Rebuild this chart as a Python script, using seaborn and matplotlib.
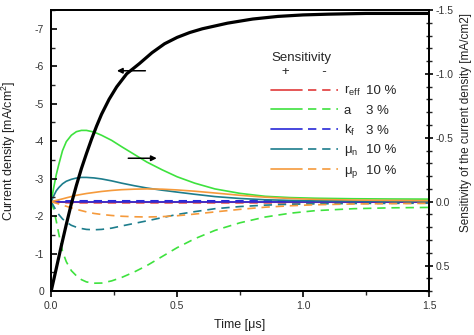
import matplotlib
matplotlib.use("Agg")
import matplotlib.pyplot as plt
from matplotlib.legend_handler import HandlerTuple
from matplotlib.ticker import MultipleLocator
import seaborn as sns

sns.set_style("ticks")
plt.rcParams["font.family"] = ["Liberation Sans", "DejaVu Sans"]
plt.rcParams["mathtext.fontset"] = "custom"
plt.rcParams["mathtext.rm"] = "Liberation Sans"
plt.rcParams["mathtext.it"] = "Liberation Sans:italic"

# Current density transient (left axis)
time_j = [0, 0.02, 0.04, 0.06, 0.08, 0.1, 0.12, 0.14, 0.16, 0.18, 0.2, 0.23,
          0.26, 0.3, 0.35, 0.4, 0.45, 0.5, 0.55, 0.6, 0.7, 0.8, 0.9, 1.0,
          1.1, 1.25, 1.5]
current = [0, -0.6, -1.2, -1.78, -2.33, -2.82, -3.27, -3.67, -4.05, -4.4,
           -4.72, -5.12, -5.45, -5.8, -6.07, -6.36, -6.6, -6.77, -6.9, -7.0,
           -7.15, -7.26, -7.33, -7.37, -7.39, -7.41, -7.41]

# Sensitivity curves (right axis), + and - parameter variation
time_s = [0, 0.01, 0.02, 0.03, 0.045, 0.06, 0.08, 0.1, 0.12, 0.14, 0.17, 0.2,
          0.24, 0.28, 0.33, 0.38, 0.44, 0.5, 0.57, 0.65, 0.75, 0.85, 0.95,
          1.05, 1.2, 1.35, 1.5]
a_plus = [0, -0.11, -0.21, -0.29, -0.40, -0.47, -0.52, -0.548, -0.558,
          -0.558, -0.545, -0.52, -0.48, -0.43, -0.37, -0.31, -0.25, -0.195,
          -0.145, -0.10, -0.065, -0.042, -0.032, -0.027, -0.023, -0.021, -0.02]
a_minus = [0, 0.06, 0.15, 0.25, 0.39, 0.47, 0.54, 0.58, 0.61, 0.628, 0.638,
           0.637, 0.62, 0.593, 0.55, 0.50, 0.43, 0.36, 0.29, 0.225, 0.165,
           0.12, 0.09, 0.07, 0.055, 0.048, 0.045]
mun_plus = [0, -0.045, -0.085, -0.11, -0.14, -0.16, -0.175, -0.185, -0.19,
            -0.19, -0.186, -0.178, -0.163, -0.145, -0.125, -0.107, -0.09,
            -0.075, -0.058, -0.04, -0.025, -0.015, -0.01, -0.008, -0.006,
            -0.005, -0.005]
mun_minus = [0, 0.035, 0.07, 0.10, 0.135, 0.16, 0.185, 0.20, 0.21, 0.217,
             0.22, 0.217, 0.207, 0.19, 0.17, 0.15, 0.125, 0.10, 0.078, 0.055,
             0.038, 0.027, 0.02, 0.017, 0.014, 0.013, 0.012]
mup_plus = [0, -0.005, -0.01, -0.015, -0.022, -0.03, -0.04, -0.05, -0.057,
            -0.064, -0.072, -0.08, -0.088, -0.094, -0.098, -0.10, -0.098,
            -0.092, -0.082, -0.068, -0.05, -0.035, -0.025, -0.018, -0.013,
            -0.01, -0.008]
mup_minus = [0, 0.006, 0.012, 0.018, 0.027, 0.036, 0.048, 0.06, 0.07, 0.08,
             0.092, 0.10, 0.108, 0.114, 0.118, 0.12, 0.117, 0.11, 0.097, 0.08,
             0.06, 0.043, 0.032, 0.024, 0.018, 0.015, 0.013]

# r_eff and k_f barely move away from zero
time_flat = [0, 0.02, 0.05, 0.1, 0.3, 0.6, 1.0, 1.5]
reff_plus = [0, 0.003, 0.004, 0.004, 0.004, 0.004, 0.004, 0.004]
reff_minus = [0, 0.006, 0.008, 0.009, 0.009, 0.009, 0.009, 0.009]
kf_plus = [0, 0.001, 0.002, 0.002, 0.002, 0.002, 0.002, 0.002]
kf_minus = [0, -0.004, -0.006, -0.007, -0.007, -0.007, -0.006, -0.006]

param_labels = [r"r$_\mathregular{eff}$", "a", r"k$_\mathregular{f}$",
                r"μ$_\mathregular{n}$", r"μ$_\mathregular{p}$"]
param_steps = ["10 %", "3 %", "3 %", "10 %", "10 %"]
colors = ["#e0393a", "#3ee23e", "#2828d8", "#1d7d8c", "#f59a3c"]
plus_series = [reff_plus, a_plus, kf_plus, mun_plus, mup_plus]
minus_series = [reff_minus, a_minus, kf_minus, mun_minus, mup_minus]
series_time = [time_flat, time_s, time_flat, time_s, time_s]

fig = plt.figure(figsize=(4.74, 3.35), dpi=100)
ax = fig.add_axes([0.108, 0.131, 0.797, 0.839])
ax2 = ax.twinx()

handles = []
for col, tt, sp, sm in zip(colors, series_time, plus_series, minus_series):
    sns.lineplot(x=tt, y=sp, ax=ax2, color=col, lw=1.2)
    solid = ax2.lines[-1]
    sns.lineplot(x=tt, y=sm, ax=ax2, color=col, lw=1.2)
    dashed = ax2.lines[-1]
    dashed.set_dashes((5, 3.5))
    handles.append((solid, dashed))

sns.lineplot(x=time_j, y=current, ax=ax, color="black", lw=2.3)

# current-density axis drawn above the sensitivity axis
ax.set_zorder(ax2.get_zorder() + 1)
ax.patch.set_visible(False)

ax.set_xlim(0, 1.5)
ax.set_ylim(0, -7.5)
ax2.set_ylim(0.7, -1.5)

ax.xaxis.set_minor_locator(MultipleLocator(0.25))
ax.yaxis.set_minor_locator(MultipleLocator(0.5))
ax2.yaxis.set_minor_locator(MultipleLocator(0.1))

ax.set_xticks([0, 0.5, 1.0, 1.5])
ax.set_xticklabels(["0.0", "0.5", "1.0", "1.5"])
ax.set_yticks(range(0, -8, -1))
ax.set_yticklabels([str(v) for v in range(0, -8, -1)])
ax2.set_yticks([-1.5, -1.0, -0.5, 0.0, 0.5])
ax2.set_yticklabels(["-1.5", "-1.0", "-0.5", "0.0", "0.5"])

tick_col = "#333333"
ax.tick_params(axis="x", which="major", direction="out", length=4, width=1.2,
               labelsize=7.5, colors="black", labelcolor=tick_col, pad=3)
ax.tick_params(axis="x", which="minor", direction="out", length=3, width=1.0)
ax.tick_params(axis="y", which="major", direction="in", length=4, width=1.2,
               labelsize=7.5, colors="black", labelcolor=tick_col, pad=5)
ax.tick_params(axis="y", which="minor", direction="in", length=3, width=1.0)
ax2.tick_params(axis="y", which="major", direction="inout", length=6, width=1.2,
                labelsize=7.5, colors="black", labelcolor=tick_col, pad=2)
ax2.tick_params(axis="y", which="minor", direction="inout", length=4, width=1.0)

for a in (ax, ax2):
    for s in a.spines.values():
        s.set_visible(True)
        s.set_linewidth(1.3)
        s.set_color("black")

ax.set_xlabel("Time [μs]", fontsize=9, color="#222222", labelpad=6)
ax.set_ylabel(r"Current density [mA/cm$^\mathregular{2}$]", fontsize=9,
              color="#222222")
ax.yaxis.set_label_coords(-0.088, 0.5)
ax2.set_ylabel("Sensitivity of the current density [mA/cm2]", fontsize=8.5,
               color="#222222")
ax2.yaxis.set_label_coords(1.081, 0.6)

# arrows pointing to the axis each curve belongs to
ax.annotate("", xy=(0.25, -5.88), xytext=(0.385, -5.88),
            arrowprops=dict(arrowstyle="-|>", color="black", lw=1.1,
                            mutation_scale=8))
ax2.annotate("", xy=(0.43, -0.34), xytext=(0.295, -0.34),
             arrowprops=dict(arrowstyle="-|>", color="black", lw=1.1,
                             mutation_scale=8))

leg = ax2.legend(handles=handles, labels=param_labels,
                 handler_map={tuple: HandlerTuple(ndivide=None, pad=0.45)},
                 title="Sensitivity\n   +         -",
                 loc="upper left", bbox_to_anchor=(0.582, 0.85),
                 frameon=False, fontsize=9.5, title_fontsize=9.5,
                 handlelength=5.1, handletextpad=0.4, labelspacing=0.47,
                 borderpad=0, borderaxespad=0, alignment="left")
leg.get_title().set_multialignment("left")

fig.canvas.draw()
inv = ax2.transAxes.inverted()
for txt, step in zip(leg.get_texts(), param_steps):
    y_disp = txt.get_transform().transform(txt.get_position())[1]
    _, y_ax = inv.transform((0, y_disp))
    ax2.text(0.833, y_ax, step, transform=ax2.transAxes, fontsize=9.5,
             va="baseline", ha="left")

fig.savefig("out.png", dpi=100)
